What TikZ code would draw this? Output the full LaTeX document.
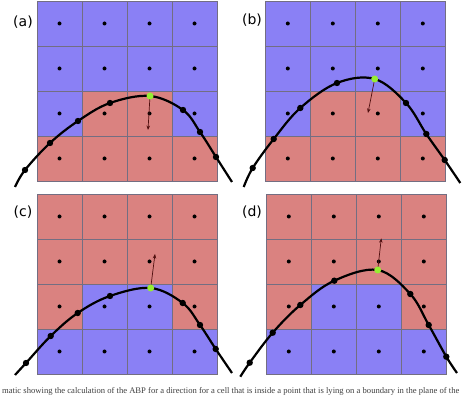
\documentclass[tikz,border=0pt]{standalone}
\usepackage{fontspec}
\setmainfont{DejaVu Sans}
\newfontfamily\capfont{Liberation Serif}
\usetikzlibrary{arrows.meta}
\definecolor{cblue}{RGB}{138,128,245}
\definecolor{cpink}{RGB}{218,130,128}
\definecolor{cgreen}{RGB}{150,238,50}
\definecolor{cgrid}{RGB}{115,110,130}
\definecolor{carrow}{RGB}{80,15,15}
\tikzset{
  B/.style={fill=cblue,draw=cgrid,line width=0.6pt},
  P/.style={fill=cpink,draw=cgrid,line width=0.6pt},
  curveline/.style={line width=2.2pt,black},
  cmark/.style={fill=black},
  gmark/.style={fill=cgreen},
  normalarrow/.style={-{Stealth[length=4.5pt,width=3.5pt]},line width=0.7pt,carrow},
  panellabel/.style={font=\fontsize{14}{16}\selectfont,inner sep=0pt}
}
\newcommand\panelgrid[3]{%
  \foreach \s [count=\i from 0] in {#3} {
    \pgfmathtruncatemacro\col{mod(\i,4)}
    \pgfmathtruncatemacro\row{div(\i,4)}
    \path[\s] ({#1+\col*45},{#2+\row*45}) rectangle ++(45,45);
  }
  \foreach \i in {0,...,15} {
    \pgfmathtruncatemacro\col{mod(\i,4)}
    \pgfmathtruncatemacro\row{div(\i,4)}
    \fill ({#1+\col*45+22.5},{#2+\row*45+22.5}) circle (2pt);
  }}
\newcommand\curvemarks[1]{\foreach \p in {#1} {\fill[cmark] \p circle (3.2pt);}}
\begin{document}
\begin{tikzpicture}[x=1pt,y=-1pt]
\useasboundingbox (0,0) rectangle (474,395);
\clip (0,0) rectangle (474,395);
\fill[white] (0,0) rectangle (474,395);

% ---- panel (a)
\panelgrid{37}{1}{B,B,B,B, B,B,B,B, B,P,P,B, P,P,P,P}
\draw[curveline] plot[smooth,tension=0.6] coordinates {(15,187) (25,170) (50,143) (78,121) (110,103) (150,96) (183,110) (200,132) (216,157) (232,182)};
\curvemarks{(25,170),(50,143),(78,121),(110,103),(183,110),(200,132),(216,157)}
\coordinate (ga) at (150,96);
\coordinate (ea) at (148,130);
\draw[normalarrow] (ga) -- (ea);
\fill[gmark] (ga) circle (3.5pt);
\node[panellabel] (la) at (23,22) {(a)};

% ---- panel (b)
\panelgrid{265.3}{1}{B,B,B,B, B,B,B,B, B,P,P,B, P,P,P,P}
\draw[curveline] plot[smooth,tension=0.6] coordinates {(243.7,187) (252.7,168) (273.7,139) (300.3,108) (337,83) (374.7,79) (406,103) (426.3,134) (444.7,160) (460.3,183)};
\curvemarks{(252.7,168),(273.7,139),(300.3,108),(337,83),(406,103),(426.3,134),(444.7,160)}
\coordinate (gb) at (374.7,79);
\coordinate (eb) at (368,113);
\draw[normalarrow] (gb) -- (eb);
\fill[gmark] (gb) circle (3.5pt);
\node[panellabel] (lb) at (252,20.5) {(b)};

% ---- panel (c)
\panelgrid{37}{194}{P,P,P,P, P,P,P,P, P,B,B,P, B,B,B,B}
\draw[curveline] plot[smooth,tension=0.6] coordinates {(15,375) (26,363) (50.7,336) (77.7,313) (110,296) (150.7,288) (182.7,303) (200,325) (215.7,349) (232,373)};
\curvemarks{(26,363),(50.7,336),(77.7,313),(110,296),(182.7,303),(200,325),(215.7,349)}
\coordinate (gc) at (150.7,288);
\coordinate (ec) at (155,254);
\draw[normalarrow] (gc) -- (ec);
\fill[gmark] (gc) circle (3.5pt);
\node[panellabel] (lc) at (23,212.5) {(c)};

% ---- panel (d)
\panelgrid{266.3}{194}{P,P,P,P, P,P,P,P, P,B,B,P, B,B,B,B}
\draw[curveline] plot[smooth,tension=0.6] coordinates {(240.3,376.7) (249.7,362.7) (272.7,332.7) (300.3,305) (334.3,280.7) (377.7,270) (410.3,294) (428.7,325) (446.3,356.7) (457,373)};
\curvemarks{(249.7,362.7),(272.7,332.7),(300.3,305),(334.3,280.7),(410.3,294),(428.7,325),(446.3,356.7)}
\coordinate (gd) at (377.7,270);
\coordinate (ed) at (381.3,238.3);
\draw[normalarrow] (gd) -- (ed);
\fill[gmark] (gd) circle (3.5pt);
\node[panellabel] (ld) at (252,212.5) {(d)};

% ---- caption line
\node[anchor=base west,inner sep=0pt,text=black!75,font=\capfont\fontsize{8.6}{9}\selectfont] (cap) at (2,393) {matic showing the calculation of the ABP for a direction for a cell that is inside a point that is lying on a boundary in the plane of the};
\end{tikzpicture}
\end{document}
